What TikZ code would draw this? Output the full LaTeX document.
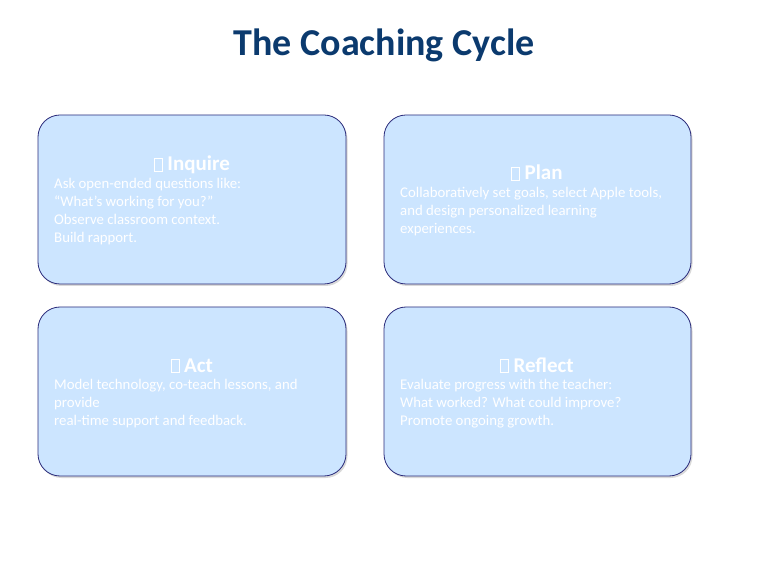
\documentclass[tikz,border=0pt]{standalone}
\usepackage{fontspec}
\setmainfont{Carlito}
\usetikzlibrary{shadows}
\definecolor{titleblue}{HTML}{0B3A6E}
\definecolor{boxfill}{HTML}{CCE5FF}
\definecolor{boxline}{HTML}{2A2A7A}
\newcommand{\missingglyph}{\tikz[baseline=0pt]\draw[line width=0.5pt] (0,0) rectangle (8pt,13pt);}
\tikzset{
  card/.style={draw=boxline, line width=0.8pt, fill=boxfill, rounded corners=22pt, drop shadow={shadow xshift=1.5pt, shadow yshift=-2pt, opacity=0.3}},
  head/.style={text=white, font=\fontsize{21}{25}\selectfont\bfseries, anchor=base},
  body/.style={text=white, font=\fontsize{14.8}{18}\selectfont, anchor=north west, align=left, inner sep=0pt}
}
\begin{document}
\begin{tikzpicture}[x=1pt,y=1pt]
\useasboundingbox (0,0) rectangle (768,576);
\node[text=titleblue, font=\fontsize{38}{44}\selectfont\bfseries, anchor=base] (title) at (384,520) {The Coaching Cycle};
\path[card] (38,292) rectangle (346,461);
\path[card] (384,292) rectangle (691,461);
\path[card] (38,100) rectangle (346,269);
\path[card] (384,100) rectangle (691,269);
\node[head] (h1) at (192,405) {\missingglyph{} Inquire};
\node[body] (b1) at (54,398) {Ask open-ended questions like:\\“What’s working for you?”\\Observe classroom context.\\Build rapport.};
\node[head] (h2) at (537,396) {\missingglyph{} Plan};
\node[body] (b2) at (400,389) {Collaboratively set goals, select Apple tools,\\and design personalized learning\\experiences.};
\node[head] (h3) at (192,204) {\missingglyph{} Act};
\node[body] (b3) at (54,197) {Model technology, co-teach lessons, and\\provide\\real-time support and feedback.};
\node[head] (h4) at (537,204) {\missingglyph{} Reflect};
\node[body] (b4) at (400,197) {Evaluate progress with the teacher:\\What worked? What could improve?\\Promote ongoing growth.};
\end{tikzpicture}
\end{document}
